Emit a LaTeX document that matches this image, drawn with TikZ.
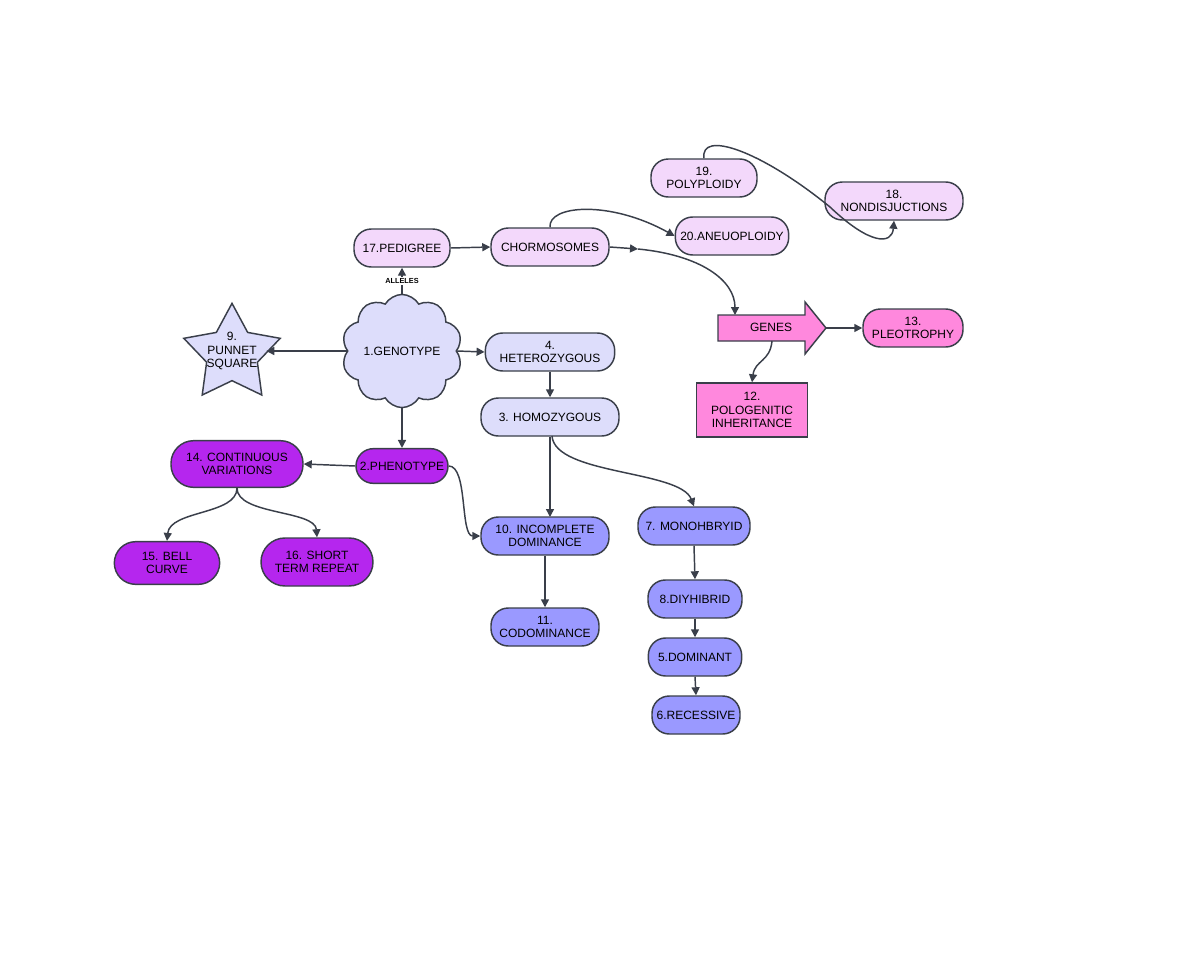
\documentclass[tikz,border=0pt]{standalone}
\usepackage{fontspec}
\setmainfont{Liberation Sans}
\usetikzlibrary{arrows.meta,shapes.symbols,shapes.geometric}
\definecolor{lpink}{HTML}{F3D8FB}
\definecolor{lav}{HTML}{DDDDFB}
\definecolor{pnk}{HTML}{FF88DD}
\definecolor{pur}{HTML}{B526EE}
\definecolor{blu}{HTML}{9A99FF}
\definecolor{ln}{HTML}{3A3F4A}
\begin{document}
\begin{tikzpicture}[x=0.75pt,y=-0.75pt,
 pill/.style={draw=ln,line width=1.1pt,rounded corners=13pt,align=center,font=\fontsize{9}{10}\selectfont,inner sep=1pt,minimum height=28.5pt},
 con/.style={draw=ln,line width=1.1pt,-{Triangle[length=6pt,width=6pt]}}]
\useasboundingbox[fill=white] (0,0) rectangle (1200,960);
\node[pill,fill=lpink,minimum width=79.5pt] (n19) at (704,178) {19.\\POLYPLOIDY};
\node[pill,fill=lpink,minimum width=103.5pt] (n18) at (894,201) {18.\\NONDISJUCTIONS};
\node[pill,fill=lpink,minimum width=85pt] (n20) at (732,236) {20.ANEUOPLOIDY};
\node[pill,fill=lpink,minimum width=72pt] (n17) at (402,248) {17.PEDIGREE};
\node[pill,fill=lpink,minimum width=88.5pt] (chr) at (550,247) {CHORMOSOMES};
\draw[ln,line width=1.1pt,fill=pnk] (718,315) -- (805,315) -- (805,302) -- (826,328) -- (805,354) -- (805,341) -- (718,341) -- cycle;
\node[font=\fontsize{9}{10}\selectfont] (genes) at (771,327) {GENES};
\coordinate (gtip) at (826,328);
\coordinate (gtop) at (735,315);
\coordinate (gbot) at (772,341);
\node[pill,fill=pnk,minimum width=75pt] (n13) at (913,328) {13.\\PLEOTROPHY};
\node[draw=ln,line width=1.1pt,fill=pnk,align=center,font=\fontsize{9}{10}\selectfont,minimum width=83pt,minimum height=40.5pt,inner sep=1pt] (n12) at (752,410) {12.\\POLOGENITIC\\INHERITANCE};
\node[cloud,cloud puffs=10,cloud puff arc=120,aspect=1.1,draw=ln,line width=1.1pt,fill=lav,minimum width=71pt,minimum height=61pt,inner sep=0pt,font=\fontsize{9}{10}\selectfont] (geno) at (402,351) {1.GENOTYPE};
\node[star,star points=5,star point ratio=1.9,draw=ln,line width=1.1pt,fill=lav,minimum size=76pt,inner sep=0pt] (star) at (232,354) {};
\node[align=center,font=\fontsize{9}{10}\selectfont] at (232,351) {9.\\PUNNET\\SQUARE};
\node[pill,fill=lav,minimum width=97pt] (n4) at (550,352) {4.\\HETEROZYGOUS};
\node[pill,fill=lav,minimum width=103.5pt] (n3) at (550,417) {3. HOMOZYGOUS};
\node[pill,fill=pur,minimum width=69pt,minimum height=26pt] (n2) at (402,466) {2.PHENOTYPE};
\node[pill,fill=pur,minimum width=99pt,minimum height=35pt,rounded corners=17pt] (n14) at (237,464) {14. CONTINUOUS\\VARIATIONS};
\node[pill,fill=pur,minimum width=79pt,minimum height=32pt,rounded corners=16pt] (n15) at (167,563) {15. BELL\\CURVE};
\node[pill,fill=pur,minimum width=84pt,minimum height=36pt,rounded corners=18pt] (n16) at (317,562) {16. SHORT\\TERM REPEAT};
\node[pill,fill=blu,minimum width=96pt] (n10) at (545,536) {10. INCOMPLETE\\DOMINANCE};
\node[pill,fill=blu,minimum width=81pt] (n11) at (545,627) {11.\\CODOMINANCE};
\node[pill,fill=blu,minimum width=84pt] (n7) at (694,526) {7. MONOHBRYID};
\node[pill,fill=blu,minimum width=70.5pt] (n8) at (695,599) {8.DIYHIBRID};
\node[pill,fill=blu,minimum width=70pt] (n5) at (695,657) {5.DOMINANT};
\node[pill,fill=blu,minimum width=66pt] (n6) at (696,715) {6.RECESSIVE};
% connectors
\draw[con] (geno.north) -- node[fill=white,font=\bfseries\fontsize{5.5}{6}\selectfont,inner sep=1pt]{ALLELES} (n17.south);
\draw[con] (n17.east) -- (chr.west);
\draw[con] (chr.north) .. controls (548,205) and (610,200) .. (n20.west);
\coordinate (mid) at (638,249);
\draw[con] (chr.east) -- (mid);
\draw[con] (mid) .. controls (700,255) and (735,280) .. (gtop);
\draw[con] (n19.north) .. controls (700,130) and (760,150) .. (830,207) .. controls (870,245) and (892,245) .. (n18.south);
\draw[con] (gtip) -- (n13.west);
\draw[con] (gbot) .. controls (770,362) and (755,360) .. (n12.north);
\draw[con] (geno.west) -- (star.east |- geno.west);
\draw[con] (geno.east) -- (n4.west);
\draw[con] (n4.south) -- (n3.north);
\draw[con] (geno.south) -- (n2.north);
\draw[con] (n2.west) -- (n14.east);
\draw[con] (n2.east) .. controls (468,466) and (460,536) .. (n10.west);
\draw[con] (n3.south) -- (550,517);
\draw[con] (552,436) .. controls (555,475) and (680,470) .. (n7.north);
\draw[con] (n14.south) .. controls (237,515) and (170,510) .. (n15.north);
\draw[con] (n14.south) .. controls (237,515) and (315,510) .. (n16.north);
\draw[con] (n10.south) -- (n11.north);
\draw[con] (n7.south) -- (n8.north);
\draw[con] (n8.south) -- (n5.north);
\draw[con] (n5.south) -- (n6.north);
\end{tikzpicture}
\end{document}
